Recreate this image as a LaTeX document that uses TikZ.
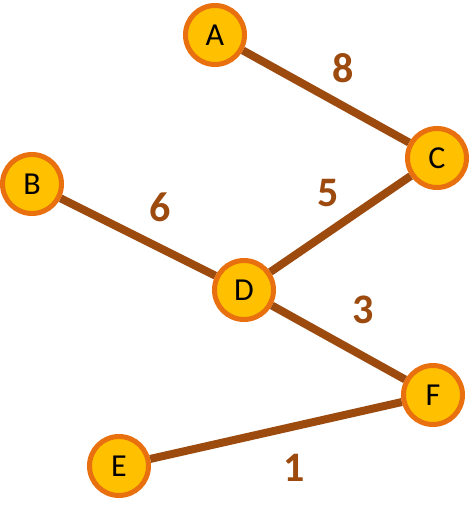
\documentclass[tikz,border=0pt]{standalone}
\usepackage{fontspec}
\setmainfont{Carlito}
\definecolor{nodefill}{HTML}{FFC000}
\definecolor{nodeline}{HTML}{E8700F}
\definecolor{edgecol}{HTML}{9C4A0E}
\begin{document}
\begin{tikzpicture}[x=1pt,y=1pt,
  vertex/.style={circle,fill=nodefill,draw=nodeline,line width=5pt,minimum size=59pt,inner sep=0pt,font=\fontsize{32}{34}\selectfont},
  edge/.style={draw=edgecol,line width=8pt},
  wlabel/.style={text=edgecol,font=\bfseries\fontsize{42}{44}\selectfont,inner sep=0pt}]
\useasboundingbox (0,0) rectangle (472,523);
\node[vertex] (A) at (215,488) {A};
\node[vertex] (B) at (32,339) {B};
\node[vertex] (C) at (437,365) {C};
\node[vertex] (D) at (244,233) {D};
\node[vertex] (F) at (433,128) {F};
\node[vertex] (E) at (119,57) {E};
\draw[edge] (A) -- (C);
\draw[edge] (B) -- (D);
\draw[edge] (D) -- (C);
\draw[edge] (D) -- (F);
\draw[edge] (E) -- (F);
\node[wlabel] (l8) at (343,455) {8};
\node[wlabel] (l6) at (160,316) {6};
\node[wlabel] (l5) at (328,330) {5};
\node[wlabel] (l3) at (363,213) {3};
\node[wlabel] (l1) at (294,55) {1};
\end{tikzpicture}
\end{document}
